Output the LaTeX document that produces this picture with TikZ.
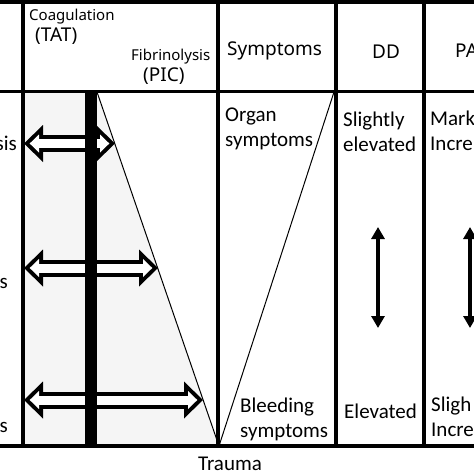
\documentclass[tikz,border=0pt]{standalone}
\usepackage{fontspec}
\setmainfont{Carlito}
\newfontfamily\hdfont{Noto Sans}
\usetikzlibrary{arrows.meta}

\begin{document}
\begin{tikzpicture}[
    x=1pt, y=-1pt,
    rule/.style={line width=3.5pt},
    hdbig/.style={font=\hdfont\fontsize{19}{23}\selectfont, inner sep=0pt},
    hdsmall/.style={font=\hdfont\fontsize{15}{18}\selectfont, inner sep=0pt},
    cell/.style={font=\fontsize{21}{25}\selectfont, align=left, inner sep=0pt},
    hollowrim/.style={line width=17pt,
        {Triangle[length=19pt,width=37pt,line width=0pt]}-{Triangle[length=19pt,width=37pt,line width=0pt]}},
    hollowcore/.style={line width=9pt, white, shorten <=5.7pt, shorten >=5.7pt,
        {Triangle[length=9.3pt,width=18pt,line width=0pt]}-{Triangle[length=9.3pt,width=18pt,line width=0pt]}},
    level/.style={line width=3.5pt,
        {Triangle[length=12pt,width=13pt]}-{Triangle[length=12pt,width=13pt]}}
]
    \useasboundingbox (0,0) rectangle (474,474);
    \clip (0,0) rectangle (474,474);

    % shaded coagulation area
    \fill[gray!8] (25,92) -- (97,92) -- (219,446) -- (25,446) -- cycle;

    % hollow double arrows
    \coordinate (ar1_l) at (24,143.5);
    \coordinate (ar1_r) at (115,143.5);
    \coordinate (ar2_l) at (24,268);
    \coordinate (ar2_r) at (158,268);
    \coordinate (ar3_l) at (24,400);
    \coordinate (ar3_r) at (203,400);
    \draw[hollowrim] (ar1_l) -- (ar1_r);
    \draw[hollowcore] (ar1_l) -- (ar1_r);
    \draw[hollowrim] (ar2_l) -- (ar2_r);
    \draw[hollowcore] (ar2_l) -- (ar2_r);
    \draw[hollowrim] (ar3_l) -- (ar3_r);
    \draw[hollowcore] (ar3_l) -- (ar3_r);

    % time bar and symptom wedge
    \fill (85,92) rectangle (97,446);
    \coordinate (wedge_a) at (97,92);
    \coordinate (wedge_tip) at (219,446);
    \coordinate (wedge_b) at (334,92);
    \draw[line width=1pt] (wedge_a) -- (wedge_tip) -- (wedge_b);

    % table rules
    \draw[rule] (0,2) -- (474,2);
    \draw[rule] (0,91.5) -- (474,91.5);
    \draw[rule] (0,446) -- (474,446);
    \draw[rule] (23,0) -- (23,446);
    \draw[rule] (218,0) -- (218,446);
    \draw[rule] (336,0) -- (336,446);
    \draw[rule] (424,0) -- (424,446);

    % header
    \node[hdsmall, anchor=base west] (coag_hd) at (29,20.5) {Coagulation};
    \node[hdbig, anchor=base west] (tat_hd) at (35,41.5) {(TAT)};
    \node[hdsmall, anchor=base west] (fib_hd) at (131,60) {Fibrinolysis};
    \node[hdbig, anchor=base west] (pic_hd) at (143,81.5) {(PIC)};
    \node[hdbig, anchor=base west] (sym_hd) at (227,55) {Symptoms};
    \node[hdbig, anchor=base] (dd_hd) at (386,58) {DD};
    \node[hdbig, anchor=base west] (pa_hd) at (455,57) {PA};

    % left column
    \node[cell, anchor=base east] (row1_lb) at (17,150) {sis};
    \node[cell, anchor=base east] (row2_lb) at (8,288) {s};
    \node[cell, anchor=base east] (row3_lb) at (8,432) {s};

    % cells
    \node[cell, anchor=north west] (organ_tx) at (225,108) {Organ\\symptoms};
    \node[cell, anchor=north west] (bleed_tx) at (240,398) {Bleeding\\symptoms};
    \node[cell, anchor=north west] (slight_tx) at (343,112) {Slightly\\elevated};
    \node[cell, anchor=base west] (elev_tx) at (344,418) {Elevated};
    \node[cell, anchor=north west] (mark_tx) at (430,111) {Mark\\Incre};
    \node[cell, anchor=north west] (sligh_tx) at (431,397) {Sligh\\Incre};
    \node[cell, anchor=base] (trauma_tx) at (230,470) {Trauma};

    % level arrows
    \coordinate (dd_up) at (378,227);
    \coordinate (dd_dn) at (378,328);
    \coordinate (pa_up) at (470,227);
    \coordinate (pa_dn) at (470,328);
    \draw[level] (dd_up) -- (dd_dn);
    \draw[level] (pa_up) -- (pa_dn);
\end{tikzpicture}
\end{document}
